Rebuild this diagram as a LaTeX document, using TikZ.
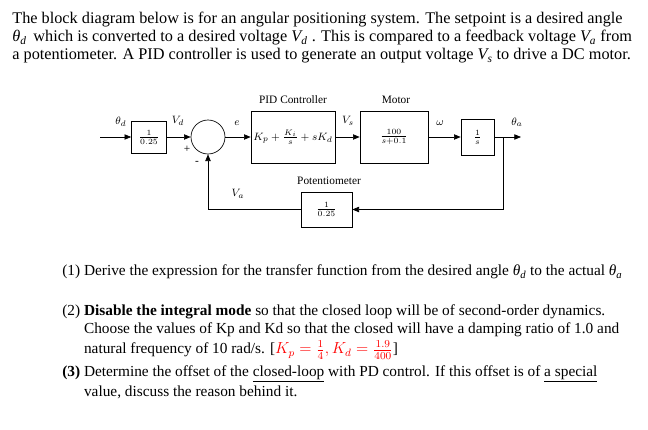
\documentclass[tikz,border=0pt]{standalone}
\usepackage{fontspec}
\setmainfont{Liberation Serif}
\usetikzlibrary{arrows.meta}
\begin{document}
\begin{tikzpicture}[x=0.75pt,y=-0.75pt,
  lbl/.style={font=\fontsize{8.5}{9}\selectfont,inner sep=0pt},
  txt/.style={anchor=west,inner sep=0pt,font=\fontsize{12.2}{14}\selectfont},
  qtxt/.style={anchor=west,inner sep=0pt,font=\fontsize{11.5}{14}\selectfont},
  arr/.style={-{Triangle[length=5pt,width=4pt]}},
  line width=0.5pt]
\useasboundingbox (0,0) rectangle (648,429);
% text
\node[txt] (t1) at (12,20) {The block diagram below is for an angular positioning system. The setpoint is a desired angle};
\node[txt] (t2) at (12,38) {\textit{θ\textsubscript{d}\,} which is converted to a desired voltage \textit{V\textsubscript{d}} . This is compared to a feedback voltage \textit{V\textsubscript{a}} from};
\node[txt] (t3) at (12,56) {a potentiometer. A PID controller is used to generate an output voltage \textit{V\textsubscript{s}} to drive a DC motor.};
% blocks
\node[draw,minimum width=26.25pt,minimum height=24pt,inner sep=0pt] (b1) at (149,137) {\small$\frac{1}{0.25}$};
\node[draw,circle,minimum size=25.5pt,inner sep=0pt] (sum) at (208,137) {};
\node[draw,minimum width=63pt,minimum height=39pt,inner sep=0pt] (pid) at (293,137) {\footnotesize$K_p+\frac{K_i}{s}+sK_d$};
\node[draw,minimum width=51pt,minimum height=39pt,inner sep=0pt] (mot) at (394,137) {\small$\frac{100}{s+0.1}$};
\node[draw,minimum width=24.75pt,minimum height=27pt,inner sep=0pt] (int) at (477.5,137) {\small$\frac{1}{s}$};
\node[draw,minimum width=38.25pt,minimum height=26.25pt,inner sep=0pt] (pot) at (326.5,209.5) {\small$\frac{1}{0.25}$};
\coordinate (in) at (100,137);
\coordinate (out) at (521,137);
\coordinate (br) at (503,137);
\coordinate (br2) at (503,209.5);
\coordinate (fb) at (208,209.5);
\draw[arr] (in) -- (b1);
\draw[arr] (b1) -- (sum);
\draw[arr] (sum) -- (pid);
\draw[arr] (pid) -- (mot);
\draw[arr] (mot) -- (int);
\draw[arr] (int) -- (out);
\draw[arr] (br) -- (br2) -- (pot);
\draw[arr] (pot) -- (fb) -- (sum);
% labels
\node[lbl] (l1) at (121,122) {$\theta_d$};
\node[lbl] (l2) at (178,121) {$V_d$};
\node[lbl] (l3) at (237,123) {$e$};
\node[lbl] (l4) at (348,121) {$V_s$};
\node[lbl] (l5) at (440,123) {$\omega$};
\node[lbl] (l6) at (517,122) {$\theta_a$};
\node[lbl] (l7) at (187,149) {+};
\node[lbl] (l8) at (197,163) {-};
\node[lbl] (l9) at (238,194) {$V_a$};
\node[lbl] (l10) at (293,100) {PID Controller};
\node[lbl] (l11) at (396,100) {Motor};
\node[lbl] (l12) at (329,181) {Potentiometer};
% questions
\node[qtxt] (q1) at (62,272) {(1) Derive the expression for the transfer function from the desired angle \textit{θ\textsubscript{d}} to the actual \textit{θ\textsubscript{a}}};
\node[qtxt] (q2) at (62,312) {(2) \textbf{Disable the integral mode} so that the closed loop will be of second-order dynamics.};
\node[qtxt] (q2b) at (62,330) {\phantom{(2) }Choose the values of Kp and Kd so that the closed will have a damping ratio of 1.0 and};
\node[qtxt] (q2c) at (62,350) {\phantom{(2) }natural frequency of 10 rad/s. [\textcolor{red}{$K_p=\frac{1}{4},K_d=\frac{1.9}{400}$}]};
\node[qtxt] (q3) at (62,374) {\textbf{(3)} Determine the offset of the \underline{closed-loop} with PD control. If this offset is of \underline{a special}};
\node[qtxt] (q3b) at (62,393) {\phantom{(3) }value, discuss the reason behind it.};
\end{tikzpicture}
\end{document}
